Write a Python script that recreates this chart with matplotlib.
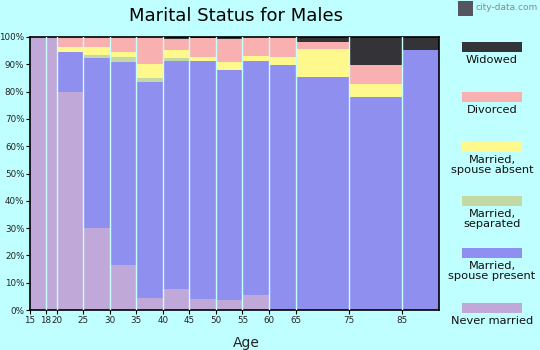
import matplotlib
matplotlib.use("Agg")
import matplotlib.pyplot as plt
from matplotlib.patches import Rectangle
from matplotlib import font_manager
import numpy as np

# age group edges (bar widths follow the group spans)
edges = [15, 18, 20, 25, 30, 35, 40, 45, 50, 55, 60, 65, 75, 85, 92]
tick_ages = [15, 18, 20, 25, 30, 35, 40, 45, 50, 55, 60, 65, 75, 85]

# percent of males in each group, bottom to top
never_married = [100, 100, 80.0, 30.0, 16.5, 4.4, 7.7, 4.0, 3.7, 5.5, 0, 0, 0, 0]
spouse_present = [0, 0, 14.5, 62.3, 74.3, 79.1, 83.5, 87.2, 84.2, 85.7, 89.7, 85.3, 78.0, 95.2]
separated = [0, 0, 0, 1.2, 1.9, 1.5, 1.1, 0, 0, 0, 0, 0, 0, 0]
spouse_absent = [0, 0, 1.8, 3.0, 1.8, 5.2, 2.9, 1.5, 2.9, 1.8, 3.0, 10.3, 4.8, 0]
divorced = [0, 0, 3.7, 3.5, 5.5, 9.8, 4.1, 7.0, 8.5, 7.0, 7.3, 2.6, 6.9, 0]
widowed = [0, 0, 0, 0, 0, 0, 0.7, 0.3, 0.7, 0, 0, 1.8, 10.3, 4.8]

series = [
    ("Never married", never_married, "#C0A8D8"),
    ("Married,\nspouse present", spouse_present, "#8F8FF0"),
    ("Married,\nseparated", separated, "#C2D9A3"),
    ("Married,\nspouse absent", spouse_absent, "#FFF88C"),
    ("Divorced", divorced, "#F9B0B0"),
    ("Widowed", widowed, "#333338"),
]

# narrow face for the tick labels if there is one
names = {f.name for f in font_manager.fontManager.ttflist}
tick_font = "Liberation Sans Narrow" if "Liberation Sans Narrow" in names else "DejaVu Sans"
tick_size = 7.5 if tick_font != "DejaVu Sans" else 6.3

bg = "#C0FFFF"
fig = plt.figure(figsize=(5.4, 3.5), dpi=100, facecolor=bg)
ax = fig.add_axes([30 / 540, 1 - 310 / 350, 409 / 540, 273 / 350])
ax.set_facecolor(bg)

left = np.array(edges[:-1], dtype=float)
width = np.diff(edges)
bottom = np.zeros(len(left))
for name, vals, col in series:
    vals = np.array(vals, dtype=float)
    ax.bar(left, vals, width=width, bottom=bottom, align="edge",
           color=col, edgecolor="none", linewidth=0)
    bottom += vals

# thin light separators between the bars
for e in edges[1:-1]:
    ax.axvline(e, color="#C8FFFF", lw=1.0, zorder=3)

ax.set_xlim(15, 92)
ax.set_ylim(0, 100)
ax.set_xticks(tick_ages)
ax.set_xticklabels([str(a) for a in tick_ages], fontsize=tick_size,
                   color="#222222", family=tick_font)
ax.set_yticks(range(0, 101, 10))
ax.set_yticklabels([f"{v}%" for v in range(0, 101, 10)], fontsize=tick_size,
                   color="#222222", family=tick_font)
ax.tick_params(axis="both", length=3, width=0.8, pad=1)
for s in ax.spines.values():
    s.set_color("black")
    s.set_linewidth(1.2)

ax.set_xlabel("Age", fontsize=10, color="#222222")
ax.xaxis.set_label_coords(0.53, -0.095)

fig.text(129 / 540, 1 - 16 / 350, "Marital Status for Males", fontsize=13,
         va="center", ha="left", color="black")
fig.text(475 / 540, 1 - 8 / 350, "city-data.com", fontsize=6.5, color="#888888",
         va="center", ha="left")
fig.patches.append(Rectangle((458 / 540, 1 - 16 / 350), 15 / 540, 15 / 350,
                             transform=fig.transFigure, facecolor="#555560",
                             edgecolor="none"))

# legend: colour bar with the label underneath
legend_rows = [
    ("Widowed", "#333338", 47),
    ("Divorced", "#F9B0B0", 97),
    ("Married,\nspouse absent", "#FFF88C", 147),
    ("Married,\nseparated", "#C2D9A3", 201),
    ("Married,\nspouse present", "#8F8FF0", 253),
    ("Never married", "#C0A8D8", 308),
]
for label, col, yc in legend_rows:
    fig.patches.append(Rectangle((462 / 540, 1 - (yc + 5) / 350), 60 / 540, 10 / 350,
                                 transform=fig.transFigure, facecolor=col,
                                 edgecolor="none"))
    fig.text(492 / 540, 1 - (yc + 8) / 350, label, fontsize=8.2, ha="center",
             va="top", color="#111111", linespacing=1.0)

fig.savefig("out.png", dpi=100, facecolor=bg)
